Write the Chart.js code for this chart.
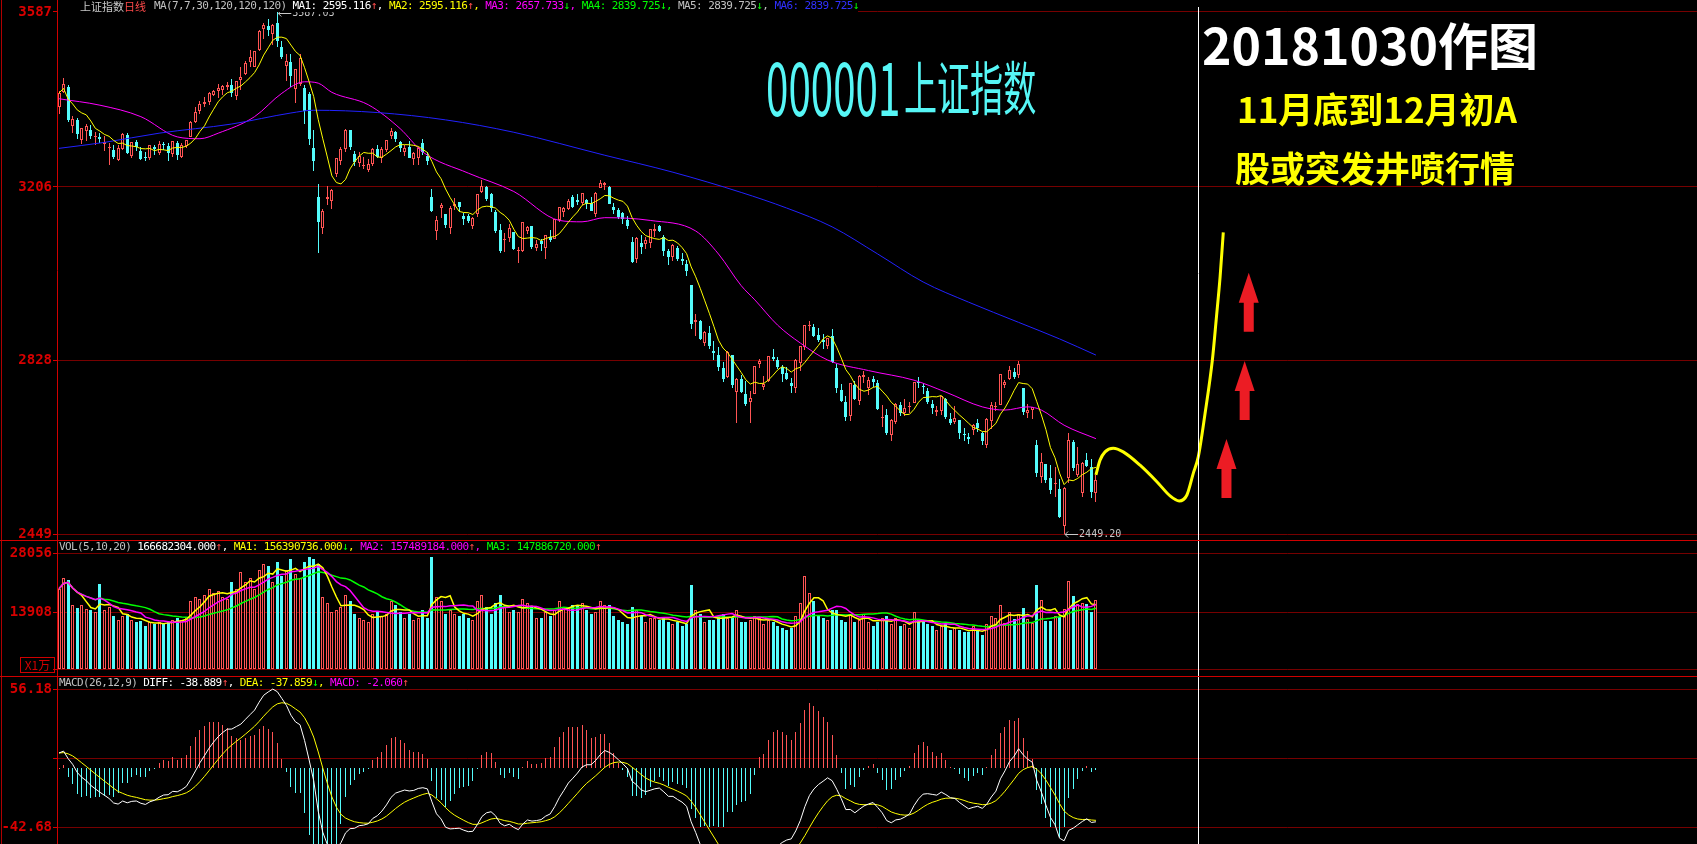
<!DOCTYPE html>
<html lang="zh-CN">
<head>
<meta charset="UTF-8">
<title>上证指数 日线</title>
<script src="https://cdn.jsdelivr.net/npm/chart.js@4.4.0/dist/chart.umd.min.js"></script>
<style>
  html, body { margin: 0; padding: 0; background: #000; }
  body { width: 1697px; height: 844px; position: relative; overflow: hidden; }
  canvas { position: absolute; left: 0; }
  #priceChart { top: 0; }
  #volChart { top: 540px; }
  #macdChart { top: 676px; }
  .mono { position: absolute; font: 11px/12px "DejaVu Sans Mono", monospace; letter-spacing: -0.6px; white-space: pre; }
  .cn { position: absolute; font: 11px/12px "Noto Sans CJK SC", sans-serif; white-space: pre; }
  .big { position: absolute; font-family: "Noto Sans CJK SC", sans-serif; font-weight: bold; white-space: pre; }
  .hl { position: absolute; background: #d00000; }
  .up { color: #ff4a4a; }
  .dn { color: #00ff00; }
</style>
</head>
<body>
<canvas id="priceChart" width="1697" height="540"></canvas>
<canvas id="volChart" width="1697" height="136"></canvas>
<canvas id="macdChart" width="1697" height="168"></canvas>

<!-- panel frame -->
<div class="hl" style="left:1px;top:0;width:1px;height:844px;background:#b00000"></div>
<div class="hl" style="left:0;top:540px;width:1697px;height:1px"></div>
<div class="hl" style="left:0;top:676px;width:1697px;height:1px"></div>

<!-- headers -->
<div style="position:absolute;left:58px;top:0;width:800px;height:12px;background:#000"></div>
<div class="cn" style="left:80px;top:0;color:#c8c8c8">上证指数<span style="color:#ff4a4a">日线</span></div>
<div class="mono" style="left:154px;top:0"><span style="color:#c0c0c0">MA(7,7,30,120,120,120) </span><span style="color:#fff">MA1: 2595.116</span><span class="up">↑</span><span style="color:#fff">, </span><span style="color:#ffff00">MA2: 2595.116</span><span class="up">↑</span><span style="color:#ffff00">, </span><span style="color:#ff00ff">MA3: 2657.733</span><span class="dn">↓</span><span style="color:#ff00ff">, </span><span style="color:#00ff00">MA4: 2839.725</span><span class="dn">↓</span><span style="color:#00ff00">, </span><span style="color:#c0c0c0">MA5: 2839.725</span><span class="dn">↓</span><span style="color:#c0c0c0">, </span><span style="color:#3030ff">MA6: 2839.725</span><span class="dn">↓</span></div>

<div class="mono" style="left:59px;top:541px"><span style="color:#c0c0c0">VOL(5,10,20) </span><span style="color:#fff">166682304.000</span><span class="up">↑</span><span style="color:#fff">, </span><span style="color:#ffff00">MA1: 156390736.000</span><span class="dn">↓</span><span style="color:#ffff00">, </span><span style="color:#ff00ff">MA2: 157489184.000</span><span class="up">↑</span><span style="color:#ff00ff">, </span><span style="color:#00ff00">MA3: 147886720.000</span><span class="up">↑</span></div>

<div class="mono" style="left:59px;top:677px"><span style="color:#c0c0c0">MACD(26,12,9) </span><span style="color:#fff">DIFF: -38.889</span><span class="up">↑</span><span style="color:#fff">, </span><span style="color:#ffff00">DEA: -37.859</span><span class="dn">↓</span><span style="color:#ffff00">, </span><span style="color:#ff00ff">MACD: -2.060</span><span class="up">↑</span></div>

<div class="cn" style="left:20px;top:657px;width:33px;height:14px;border:1px solid #d00000;color:#d00000;font-size:12px;line-height:14px;text-align:center">X1万</div>

<!-- titles -->
<div style="position:absolute;left:766px;top:49px;font:72px/72px 'Noto Sans CJK SC',sans-serif;color:#56f6f6;transform:scaleX(0.56);transform-origin:left top;white-space:pre">000001</div>
<div style="position:absolute;left:904px;top:56px;font:58px/58px 'Noto Sans CJK SC',sans-serif;color:#56f6f6;transform:scaleX(0.57);transform-origin:left top;white-space:pre">上证指数</div>
<div class="big" style="left:1202px;top:18px;font-size:50px;line-height:50px;color:#fff">20181030作图</div>
<div class="big" style="left:1237px;top:90px;font-size:35px;line-height:35px;color:#ffff00">11月底到12月初A</div>
<div class="big" style="left:1235px;top:149px;font-size:35px;line-height:35px;color:#ffff00">股或突发井喷行情</div>

<script>
// ---- daily candles, 2017-11-21 .. 2018-10-30 ----
const opens = [
  3381,3413,3424.6,3338,3351,3309,3327,3331,3315,3314,
  3299,3291,3287,3265,3289,3320,3274,3303,3284,3269,
  3268,3294,3279,3298,3296,3278,3302,3272,3295,3314,
  3348,3371,3387,3392,3406,3414,3416,3423,3428,3404,
  3439,3451,3478,3468,3504,3549,3557,3540,3564,3511,
  3470,3478,3419,3430,3422,3408,3290,3184,3117,3179,
  3176,3234,3263,3289,3330,3277,3258,3252,3243,3257,
  3289,3269,3287,3317,3326,3304,3282,3292,3267,3269,
  3302,3274,3184,3111,3160,3146,3116,3164,3173,3143,
  3143,3120,3146,3196,3205,3191,3152,3112,3090,3095,
  3108,3067,3066,3110,3121,3074,3088,3073,3096,3093,
  3135,3152,3158,3183,3178,3172,3177,3170,3148,3204,
  3210,3206,3163,3155,3149,3133,3087,3048,3084,3081,
  3083,3109,3121,3098,3066,3053,3074,3049,3039,2993,
  2911,2914,2867,2888,2849,2841,2812,2792,2841,2759,
  2788,2755,2738,2755,2821,2770,2784,2835,2828,2813,
  2801,2779,2768,2822,2857,2903,2901,2884,2873,2860,
  2882,2812,2763,2738,2708,2775,2739,2791,2768,2788,
  2780,2702,2710,2665,2695,2730,2714,2726,2736,2780,
  2773,2762,2734,2716,2717,2744,2700,2694,2698,2665,
  2661,2676,2691,2670,2644,2696,2727,2732,2774,2788,
  2803,2796,2768,2713,2720,2643,2575,2603,2573,2560,
  2548,2468,2572,2650,2578,2540,2611,2596,2540
];
const highs = [
  3414,3443,3427,3360,3357,3334,3342,3341,3325,3323,
  3317,3302,3298,3297,3324,3324,3304,3308,3293,3282,
  3297,3298,3307,3303,3302,3307,3306,3301,3308,3349,
  3380,3393,3402,3413,3417,3430,3427,3435,3442,3437,
  3468,3480,3505,3502,3547,3562,3572,3561,3587,3524,
  3495,3495,3463,3495,3429,3412,3330,3213,3158,3209,
  3201,3269,3293,3333,3330,3285,3283,3271,3267,3290,
  3298,3293,3307,3334,3328,3307,3297,3307,3283,3292,
  3311,3281,3202,3143,3172,3147,3165,3182,3174,3150,
  3147,3141,3190,3220,3207,3193,3155,3126,3106,3126,
  3108,3076,3129,3121,3121,3090,3092,3101,3112,3137,
  3162,3162,3179,3188,3191,3193,3180,3183,3194,3220,
  3217,3208,3171,3161,3151,3143,3096,3097,3102,3096,
  3115,3125,3124,3102,3070,3082,3077,3061,3046,2993,
  2929,2916,2892,2902,2870,2857,2825,2848,2841,2789,
  2797,2783,2762,2816,2832,2794,2838,2853,2835,2819,
  2814,2789,2832,2860,2906,2915,2907,2898,2885,2878,
  2897,2821,2777,2750,2780,2783,2796,2806,2792,2795,
  2785,2731,2722,2700,2735,2737,2744,2738,2781,2791,
  2780,2768,2743,2729,2751,2747,2713,2729,2699,2681,
  2669,2690,2701,2672,2702,2738,2737,2798,2785,2815,
  2812,2827,2769,2733,2727,2655,2626,2603,2600,2596,
  2569,2552,2670,2655,2640,2606,2627,2613,2578
];
const lows = [
  3365,3410,3347.5,3324,3311,3300,3305,3310,3298,3302,
  3285,3254,3266,3262,3286,3278,3270,3285,3264,3262,
  3265,3276,3275,3286,3262,3272,3264,3270,3290,3314,
  3345,3365,3380,3385,3404,3399,3406,3417,3402,3396,
  3416,3449,3467,3467,3503,3529,3535,3515,3510,3484,
  3437,3424,3389,3426,3344,3297,3240,3063,3104,3167,
  3158,3228,3254,3281,3286,3252,3250,3244,3239,3251,
  3268,3259,3283,3311,3303,3281,3274,3268,3254,3253,
  3275,3253,3152,3091,3139,3116,3103,3156,3151,3123,
  3127,3115,3140,3192,3176,3151,3105,3063,3064,3085,
  3069,3041,3064,3104,3070,3066,3067,3049,3085,3092,
  3130,3140,3156,3160,3167,3166,3158,3153,3141,3203,
  3200,3168,3146,3136,3126,3114,3041,3041,3059,3071,
  3072,3098,3108,3056,3037,3045,3045,3036,3011,2897,
  2881,2872,2860,2852,2830,2806,2782,2789,2767,2691,
  2758,2729,2691,2755,2812,2764,2781,2826,2810,2782,
  2785,2758,2758,2806,2851,2892,2880,2868,2854,2853,
  2822,2757,2737,2697,2696,2743,2731,2780,2752,2770,
  2720,2684,2666,2653,2690,2708,2706,2714,2735,2769,
  2755,2734,2712,2706,2710,2700,2687,2689,2658,2653,
  2647,2666,2673,2644,2638,2679,2717,2731,2767,2785,
  2788,2790,2710,2702,2700,2575,2561,2562,2538,2530,
  2486,2449.2,2562,2588,2575,2530,2597,2528,2520
];
const closes = [
  3410.5,3430.5,3351.9,3353.8,3322.2,3333.7,3337.9,3317.2,3317.6,3309.6,
  3303.7,3294.0,3272.1,3290.0,3322.2,3280.8,3303.0,3292.4,3266.1,3267.9,
  3296.5,3287.6,3300.1,3297.1,3280.5,3306.1,3275.8,3296.4,3307.2,3348.3,
  3369.1,3385.7,3391.8,3409.5,3413.9,3421.8,3425.4,3428.9,3410.5,3436.6,
  3444.7,3474.8,3487.9,3501.4,3546.5,3559.5,3548.3,3558.1,3523.0,3488.0,
  3480.8,3447.0,3462.1,3487.5,3370.7,3309.3,3262.1,3129.9,3154.1,3185.0,
  3199.2,3268.6,3289.0,3329.6,3292.1,3259.4,3273.8,3254.5,3256.9,3289.6,
  3271.7,3288.4,3307.2,3326.7,3310.2,3291.4,3291.1,3269.9,3279.3,3290.6,
  3281.0,3263.5,3152.8,3133.7,3166.7,3122.3,3160.5,3168.9,3163.2,3136.6,
  3131.1,3138.3,3190.3,3208.1,3180.2,3159.1,3110.7,3066.8,3091.4,3117.4,
  3071.5,3068.0,3128.9,3118.0,3075.0,3082.2,3081.2,3100.9,3091.0,3136.6,
  3161.5,3159.2,3174.4,3163.3,3174.0,3192.1,3169.6,3154.3,3193.3,3213.8,
  3214.4,3169.0,3154.7,3141.3,3135.1,3120.5,3041.4,3095.5,3075.1,3091.2,
  3114.2,3115.2,3109.5,3067.2,3052.8,3079.8,3049.8,3044.2,3021.9,2907.8,
  2915.7,2875.8,2889.8,2859.3,2844.5,2813.2,2786.9,2847.4,2775.6,2786.9,
  2759.1,2733.9,2747.2,2815.1,2827.6,2777.8,2837.7,2831.2,2814.0,2798.1,
  2787.3,2772.6,2829.3,2859.5,2905.6,2903.7,2882.2,2873.6,2869.1,2876.4,
  2824.5,2768.0,2740.4,2705.2,2779.4,2744.1,2794.4,2795.3,2785.9,2781.0,
  2723.3,2705.2,2669.0,2698.5,2733.9,2714.6,2724.6,2729.4,2780.9,2778.0,
  2769.3,2737.7,2725.3,2720.7,2750.6,2704.3,2691.6,2702.3,2669.5,2664.8,
  2656.1,2686.6,2681.6,2651.8,2700.0,2730.9,2729.2,2797.5,2781.1,2806.8,
  2791.8,2821.4,2716.5,2721.0,2725.8,2583.5,2606.9,2568.1,2546.3,2561.6,
  2486.4,2550.5,2654.9,2594.8,2603.3,2603.8,2598.9,2542.1,2568.1
];
// volume, x1万
const volumes = [
  19500,22000,21600,15500,14800,15500,14600,14500,13800,20600,
  14500,15000,13000,12000,13000,13500,12000,11500,11800,10500,
  11500,11000,11500,11000,11500,12000,12500,12000,12800,16500,
  17500,17000,18000,19500,18500,19000,17500,17000,21000,19500,
  23500,21000,22000,19500,24000,25500,25000,21000,25800,22500,
  24000,26500,23000,22000,26000,27000,26500,25500,17500,16000,
  14000,14500,15000,18000,16500,13500,12500,12000,11500,13500,
  14000,13000,13500,16500,15500,14000,12500,13500,12000,12500,
  14500,12500,27000,17500,16500,13500,14500,13500,13000,13500,
  12500,12000,16500,18000,15000,13500,16000,18000,15000,14000,
  14500,14000,17000,16000,15000,12500,12500,14000,13000,14500,
  16500,15000,15000,15500,15500,16000,14500,13500,14000,16500,
  15500,15500,13000,12000,11500,11000,15000,14500,13000,11500,
  12500,12500,12000,12500,11500,11000,11500,10500,11000,20500,
  14500,13500,11500,12000,12000,13000,13500,12500,12500,14500,
  11500,11500,12000,13000,12500,11000,12000,11500,10500,10000,
  9500,10000,13000,16000,22500,18500,16500,13000,12500,12000,
  14500,14500,12000,11500,13500,11500,12000,13500,11500,10500,
  11500,12500,13000,11000,12500,10500,11000,10000,14000,12000,
  11500,11000,10500,9500,10500,11000,9500,10000,9500,9000,
  9000,10500,9500,8500,11000,13000,12500,15587,11190,13836,
  12158,13428,14868,12200,11190,20400,16705,11750,11750,13030,
  12630,14550,21339,17745,15830,15990,15830,13877,16668
];

// MA30 and MA120 (candle index, value)
const ma30Idx = [0, 9, 18, 26, 31, 35, 43, 49, 54, 57, 60, 68, 75, 80, 90, 100, 110, 115, 120, 130, 140, 145, 150, 153, 158, 163, 169, 178, 188, 195, 203, 208, 213, 216, 221, 228];
const ma30Val = [3398, 3384, 3359, 3315, 3311, 3323, 3359, 3410, 3435, 3432, 3412, 3385, 3333, 3282, 3236, 3196, 3133, 3130, 3139, 3133, 3110, 3060, 2991, 2960, 2905, 2866, 2829, 2806, 2785, 2759, 2727, 2720, 2727, 2720, 2687, 2657.7];
const ma120Idx = [0, 10, 22, 38, 51, 56, 70, 85, 100, 120, 135, 150, 160, 170, 180, 190, 200, 211, 220, 228];
const ma120Val = [3290, 3303, 3323, 3343, 3367, 3373, 3368, 3352, 3325, 3275, 3238, 3194, 3160, 3119, 3060, 2999, 2955, 2911, 2875, 2839.7];

// hand drawn forecast curve and arrows (candle index, price)
const projIdx = [228, 228.9, 230, 231.8, 234, 237.7, 241.4, 244.3, 246.3, 248, 249.4, 250.5, 252, 253.6, 254.5, 255.3, 256];
const projVal = [2579, 2611, 2629, 2637, 2629, 2600, 2564, 2533, 2522, 2535, 2582, 2618, 2713, 2829, 2923, 3010, 3107];
const arrowIdx = [261.6, 260.7, 256.7];
const arrowVal = [3019, 2827, 2657];
const markIdx = 250.5;   // 2018-10-30 marker line

const priceTicks = [3587, 3206, 2828, 2449];
const volTicks = [28056, 13908, 0];
const macdTicks = [56.18, 6.75, -42.68];

// MACD(26,12,9) state at first candle
const ema12Seed = 3404, ema26Seed = 3393.6, deaSeed = 10.4;

const UP = '#ff5454', DOWN = '#54fcfc';
const xMin = -0.44, xMax = 360.16;

const isUp = closes.map((c, i) => c >= opens[i]);
const pts = arr => arr.map((v, i) => ({x: i, y: v}));
const pairs = (xs, ys) => xs.map((x, i) => ({x: x, y: ys[i]}));
function movingAvg(arr, n) {
  return arr.map((_, i) => {
    const s = arr.slice(Math.max(0, i - n + 1), i + 1);
    return s.reduce((a, b) => a + b, 0) / s.length;
  });
}

let e12 = ema12Seed, e26 = ema26Seed, dea = deaSeed;
const diffArr = [], deaArr = [], histArr = [];
closes.forEach((c, i) => {
  if (i > 0) {
    e12 += (c - e12) * 2 / 13;
    e26 += (c - e26) * 2 / 27;
  }
  const d = e12 - e26;
  if (i > 0) dea += (d - dea) * 2 / 10;
  diffArr.push(d); deaArr.push(dea); histArr.push(2 * (d - dea));
});

function yAxis(min, max, ticks, fmt) {
  return {
    position: 'left', min: min, max: max,
    afterBuildTicks: s => { s.ticks = ticks.map(v => ({value: v})); },
    afterFit: s => { s.width = 57; s.paddingTop = 0; s.paddingBottom = 0; },
    ticks: {
      color: '#d80000', padding: 1, autoSkip: false,
      font: {family: '"DejaVu Sans Mono"', size: 14, weight: 'bold'},
      callback: fmt
    },
    grid: { color: '#760000', tickColor: '#d80000', tickLength: 4, lineWidth: 1 },
    border: { color: '#d00000', width: 1 }
  };
}
const xAxis = { type: 'linear', min: xMin, max: xMax, display: false, offset: false };

// put bar edges on whole pixels so candles and volume bars stay crisp
const snapBars = {
  id: 'snapBars',
  afterDatasetsUpdate(chart) {
    chart.data.datasets.forEach((ds, k) => {
      const meta = chart.getDatasetMeta(k);
      if (meta.type !== 'bar') return;
      meta.data.forEach(el => {
        el.x = Math.floor(el.x) + 0.5;
        el.y = Math.round(el.y);
        el.base = Math.round(el.base);
        if (Math.abs(el.base - el.y) < 1) el.base = el.y + 1;
      });
    });
  }
};

function markLine(top) {
  return {
    id: 'markLine',
    afterDatasetsDraw(chart) {
      const ctx = chart.ctx;
      const px = Math.round(chart.scales.x.getPixelForValue(markIdx)) + 0.5;
      ctx.save();
      ctx.strokeStyle = '#ffffff';
      ctx.lineWidth = 1;
      ctx.beginPath();
      ctx.moveTo(px, top);
      ctx.lineTo(px, chart.height);
      ctx.stroke();
      ctx.restore();
    }
  };
}

const notes = {
  id: 'notes',
  afterDatasetsDraw(chart) {
    const {ctx, scales: {x, y}} = chart;
    ctx.save();
    // red arrows
    ctx.fillStyle = '#ec1c24';
    arrowIdx.forEach((a, k) => {
      const px = x.getPixelForValue(a), py = y.getPixelForValue(arrowVal[k]);
      ctx.beginPath();
      ctx.moveTo(px, py);
      ctx.lineTo(px + 10, py + 30);
      ctx.lineTo(px + 5, py + 30);
      ctx.lineTo(px + 5, py + 59);
      ctx.lineTo(px - 5, py + 59);
      ctx.lineTo(px - 5, py + 30);
      ctx.lineTo(px - 10, py + 30);
      ctx.closePath();
      ctx.fill();
    });
    // low / high marks
    ctx.font = '10px "DejaVu Sans Mono"';
    ctx.fillStyle = '#c8c8c8';
    ctx.strokeStyle = '#c8c8c8';
    ctx.lineWidth = 1;
    const marks = [[221, 2449.2, 'middle', 0], [48, 3587.03, 'alphabetic', 4]];
    marks.forEach(m => {
      const px = x.getPixelForValue(m[0]), py = y.getPixelForValue(m[1]) + m[3];
      const ly = Math.round(py - (m[3] ? 3 : 0)) + 0.5;
      ctx.beginPath();
      ctx.moveTo(px + 1, ly); ctx.lineTo(px + 14, ly);
      ctx.moveTo(px + 1, ly); ctx.lineTo(px + 4, ly - 3);
      ctx.moveTo(px + 1, ly); ctx.lineTo(px + 4, ly + 3);
      ctx.stroke();
      ctx.textBaseline = m[2];
      ctx.fillText(m[1].toFixed(2), px + 15, py);
    });
    ctx.restore();
  }
};

const common = {
  responsive: false, animation: false, events: [], devicePixelRatio: 1,
  layout: { padding: 0 },
  plugins: { legend: { display: false }, tooltip: { enabled: false } }
};

new Chart(document.getElementById('priceChart'), {
  type: 'bar',
  data: {
    datasets: [
      { type: 'bar', data: closes.map((c, i) => ({x: i, y: [lows[i], highs[i]]})),
        backgroundColor: isUp.map(u => u ? UP : DOWN), barThickness: 1, grouped: false, inflateAmount: 0, order: 3 },
      { type: 'bar', data: closes.map((c, i) => ({x: i, y: [opens[i], c]})),
        backgroundColor: isUp.map(u => u ? '#000' : DOWN), borderColor: isUp.map(u => u ? UP : DOWN),
        borderWidth: isUp.map(u => u ? 1 : 0), borderSkipped: false, minBarLength: 1,
        barThickness: 3, grouped: false, inflateAmount: 0, order: 2 },
      { type: 'line', data: pairs(ma120Idx, ma120Val), borderColor: '#2222ff', borderWidth: 1,
        pointRadius: 0, cubicInterpolationMode: 'monotone', order: 1 },
      { type: 'line', data: pairs(ma30Idx, ma30Val), borderColor: '#ff00ff', borderWidth: 1,
        pointRadius: 0, cubicInterpolationMode: 'monotone', order: 1 },
      { type: 'line', data: pts(movingAvg(closes, 7)), borderColor: '#ffff00', borderWidth: 1,
        pointRadius: 0, order: 0 },
      { type: 'line', data: pairs(projIdx, projVal), borderColor: '#ffff00', borderWidth: 3,
        pointRadius: 0, cubicInterpolationMode: 'monotone', order: 0 }
    ]
  },
  options: Object.assign({}, common, {
    scales: { x: xAxis, y: yAxis(2437.0, 3613.1, priceTicks, v => String(v)) }
  }),
  plugins: [snapBars, notes, markLine(7)]
});

new Chart(document.getElementById('volChart'), {
  type: 'bar',
  data: {
    datasets: [
      { type: 'bar', data: pts(volumes),
        backgroundColor: isUp.map(u => u ? '#000' : DOWN), borderColor: isUp.map(u => u ? UP : DOWN),
        borderWidth: isUp.map(u => u ? 1 : 0), borderSkipped: false,
        barThickness: 3, grouped: false, inflateAmount: 0, order: 2 },
      { type: 'line', data: pts(movingAvg(volumes, 20)), borderColor: '#00ff00', borderWidth: 1.5, pointRadius: 0, order: 1 },
      { type: 'line', data: pts(movingAvg(volumes, 10)), borderColor: '#ff00ff', borderWidth: 1.5, pointRadius: 0, order: 0 },
      { type: 'line', data: pts(movingAvg(volumes, 5)), borderColor: '#ffff00', borderWidth: 1.5, pointRadius: 0, order: 0 }
    ]
  },
  options: Object.assign({}, common, {
    scales: { x: xAxis, y: yAxis(-1439, 31174, volTicks, v => v === 0 ? '' : String(v)) }
  }),
  plugins: [snapBars, markLine(0)]
});

new Chart(document.getElementById('macdChart'), {
  type: 'bar',
  data: {
    datasets: [
      { type: 'bar', data: pts(histArr), backgroundColor: histArr.map(v => v >= 0 ? UP : DOWN),
        barThickness: 1, grouped: false, inflateAmount: 0, order: 2 },
      { type: 'line', data: pts(deaArr), borderColor: '#ffff00', borderWidth: 1, pointRadius: 0, order: 1 },
      { type: 'line', data: pts(diffArr), borderColor: '#ffffff', borderWidth: 1, pointRadius: 0, order: 0 }
    ]
  },
  options: Object.assign({}, common, {
    scales: { x: xAxis, y: yAxis(-54.8, 65.55, macdTicks, v => v === 6.75 ? '' : v.toFixed(2)) }
  }),
  plugins: [snapBars, markLine(0)]
});
</script>
</body>
</html>
